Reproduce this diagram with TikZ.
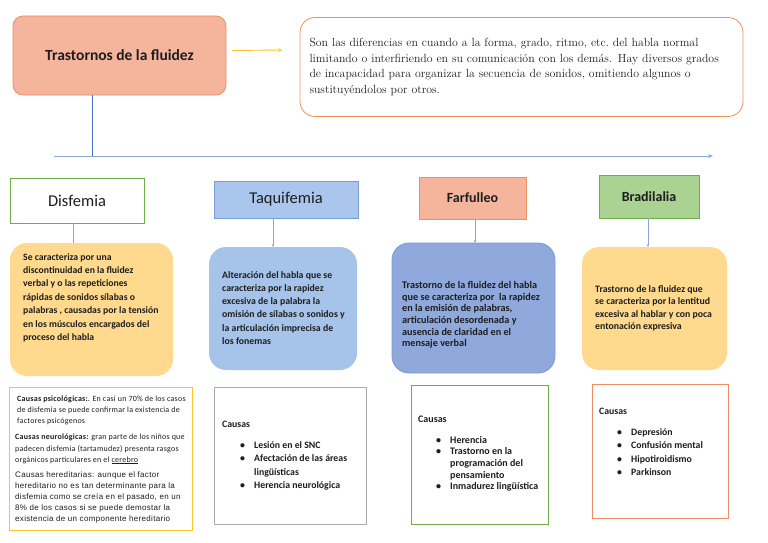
\documentclass[tikz,border=0pt]{standalone}
\usepackage{fontspec}
\newfontfamily\calib{Carlito}
\newfontfamily\calsp[LetterSpace=3]{Carlito}
\newfontfamily\arialsp[LetterSpace=4]{Liberation Sans}
\usetikzlibrary{arrows.meta}
\definecolor{salmonfill}{RGB}{245,180,156}
\definecolor{salmonline}{RGB}{238,140,100}
\definecolor{orangeline}{RGB}{237,145,90}
\definecolor{bluehead}{RGB}{170,198,236}
\definecolor{bluehline}{RGB}{120,160,215}
\definecolor{greenfill}{RGB}{170,210,145}
\definecolor{greenline}{RGB}{112,173,71}
\definecolor{yellowfill}{RGB}{255,217,142}
\definecolor{lightblue}{RGB}{166,195,234}
\definecolor{peri}{RGB}{143,169,220}
\definecolor{periline}{RGB}{125,150,208}
\definecolor{goldline}{RGB}{255,196,40}
\definecolor{grayline}{RGB}{170,170,170}
\definecolor{darkblue}{RGB}{68,114,196}
\definecolor{connblue}{RGB}{140,165,215}
\definecolor{txt}{RGB}{30,30,30}
\tikzset{
  box/.style={inner sep=0pt, outer sep=0pt, line width=0.8pt},
  headbox/.style={box, font=\calib\fontsize{16.5}{18}\selectfont, text=txt},
  descbox/.style={box, rounded corners=17pt},
  desctext/.style={inner sep=0pt, anchor=north west, align=left, text=txt, font=\calib\bfseries\fontsize{9.7}{13.4}\selectfont},
  causebox/.style={box, fill=white},
  conn/.style={draw=connblue, line width=0.6pt},
  tipconn/.style={conn, -{Stealth[length=3pt,width=2.6pt]}},
}
\newcommand{\itm}[1]{\hspace*{18pt}\makebox[14pt][l]{\textbullet}#1}
\newcommand{\cnt}[1]{\hspace*{32pt}#1}
\newcommand{\myul}[1]{\setbox0\hbox{#1}\rlap{\rule[-1.3pt]{\wd0}{0.45pt}}\box0}
\begin{document}
\calib
\begin{tikzpicture}[x=1pt,y=-1pt]
\useasboundingbox (0,0) rectangle (768,543);
% top
\node[box, rounded corners=10pt, fill=salmonfill, draw=salmonline, minimum width=213pt, minimum height=79pt,
  font=\calib\bfseries\fontsize{15.5}{18}\selectfont, text=txt] (main) at (119.5,55.5) {Trastornos de la fluidez};
\node[box, rounded corners=15pt, fill=white, draw=orangeline, minimum width=443pt, minimum height=99pt,
  text width=424pt, align=left, font=\rmfamily\fontsize{11.8}{15.6}\selectfont, text=txt] (def) at (521.5,67)
  {\hyphenpenalty=10000 Son las diferencias en cuando a la forma, grado, ritmo, etc.\ del habla normal\\
   limitando o interfiriendo en su comunicación con los demás. Hay diversos grados\\
   de incapacidad para organizar la secuencia de sonidos, omitiendo algunos o\\
   sustituyéndolos por otros.};
\draw[draw=goldline, line width=0.9pt, -{Stealth[length=4pt,width=4pt]}] ([xshift=6pt,yshift=5pt]main.east) -- ([xshift=-18pt,yshift=17pt]def.west);
\coordinate (hj) at (92,156);
\coordinate (h0) at (54,156);
\coordinate (h1) at (713,156);
\draw[draw=darkblue, line width=0.7pt] (main.south -| hj) -- (hj);
\draw[draw=peri, line width=1pt, -{Stealth[length=5pt,width=4pt]}] (h0) -- (h1);
% headings
\node[headbox, fill=white, draw=greenline, minimum width=134pt, minimum height=45pt] (dis) at (77,200.5) {Disfemia};
\node[headbox, fill=bluehead, draw=bluehline, minimum width=144pt, minimum height=37pt] (taq) at (286,199.5) {Taquifemia};
\node[headbox, fill=salmonfill, draw=orangeline, minimum width=107pt, minimum height=42pt, font=\calib\bfseries\fontsize{14}{16}\selectfont] (far) at (472.5,198) {Farfulleo};
\node[headbox, fill=greenfill, draw=greenline, minimum width=100pt, minimum height=43pt, font=\calib\bfseries\fontsize{14}{16}\selectfont] (bra) at (649,196.5) {Bradilalia};
% descriptions
\node[descbox, fill=yellowfill, minimum width=163pt, minimum height=133pt] (disd) at (91.5,309.5) {};
\node[descbox, fill=lightblue, minimum width=148pt, minimum height=123pt] (taqd) at (283,308.5) {};
\node[descbox, fill=peri, draw=periline, minimum width=163pt, minimum height=130pt] (fard) at (473.5,308) {};
\node[descbox, fill=yellowfill, minimum width=145pt, minimum height=123pt] (brad) at (654.5,308.5) {};
\node[desctext] (disdt) at (23,253) {Se caracteriza por una\\ discontinuidad en la fluidez\\ verbal y o las repeticiones\\ rápidas de sonidos sílabas o\\ palabras , causadas por la tensión\\ en los músculos encargados del\\ proceso del habla};
\node[desctext, font=\calib\bfseries\fontsize{9.8}{13.3}\selectfont] (taqdt) at (222,271) {Alteración del habla que se\\ caracteriza por la rapidez\\ excesiva de la palabra la\\ omisión de sílabas o sonidos y\\ la articulación imprecisa de\\ los fonemas};
\node[desctext, font=\calib\bfseries\fontsize{10.2}{11.7}\selectfont] (fardt) at (402,281) {Trastorno de la fluidez del habla\\ que se caracteriza por\ \ la rapidez\\ en la emisión de palabras,\\ articulación desordenada y\\ ausencia de claridad en el\\ mensaje verbal};
\node[desctext, font=\calib\bfseries\fontsize{9.8}{12.6}\selectfont] (bradt) at (595,285) {Trastorno de la fluidez que\\ se caracteriza por la lentitud\\ excesiva al hablar y con poca\\ entonación expresiva};
% connectors heading -> description
\draw[conn] ([xshift=-4pt]dis.south) -- ([xshift=-4pt]dis.south |- disd.north);
\draw[tipconn] ([xshift=-13pt]taq.south) -- ([xshift=-13pt]taq.south |- taqd.north);
\draw[tipconn] ([xshift=2.5pt]far.south) -- ([xshift=2.5pt]far.south |- fard.north);
\draw[tipconn] ([xshift=-1pt]bra.south) -- ([xshift=-1pt]bra.south |- brad.north);
% causes boxes
\node[causebox, draw=goldline, minimum width=183pt, minimum height=143pt] (disc) at (100.5,458.5) {};
\node[causebox, draw=grayline, minimum width=152pt, minimum height=137pt] (taqc) at (290,455.5) {};
\node[causebox, draw=greenline, minimum width=137pt, minimum height=139pt] (farc) at (479.5,454.5) {};
\node[causebox, draw=salmonline, minimum width=136pt, minimum height=134pt] (brac) at (660,451) {};
\node[inner sep=0pt, anchor=north west, align=left, text=txt, font=\calsp\fontsize{8}{10.8}\selectfont] (disc1) at (17,396)
  {\textbf{Causas psicológicas:}. En casi un 70\% de los casos\\ de disfemia se puede confirmar la existencia de\\ factores psicógenos};
\node[inner sep=0pt, anchor=north west, align=left, text=txt, font=\calsp\fontsize{8}{11.2}\selectfont] (disc2) at (15,434)
  {\textbf{Causas neurológicas:} gran parte de los niños que\\ padecen disfemia (tartamudez) presenta rasgos\\ orgánicos particulares en el \myul{cerebro}};
\node[inner sep=0pt, anchor=north west, align=left, text=txt, font=\arialsp\fontsize{8}{11}\selectfont] (disc3) at (15,471)
  {Causas hereditarias: aunque el factor\\ hereditario no es tan determinante para la\\ disfemia como se creía en el pasado, en un\\ 8\% de los casos si se puede demostar la\\ existencia de un componente hereditario};
\node[desctext, font=\calib\bfseries\fontsize{9.8}{13.3}\selectfont] (taqct) at (222,421)
  {Causas\\[7.5pt] \itm{Lesión en el SNC}\\ \itm{Afectación de las áreas}\\ \cnt{lingüísticas}\\ \itm{Herencia neurológica}};
\node[desctext, font=\calib\bfseries\fontsize{10}{11.6}\selectfont] (farct) at (418,416)
  {Causas\\[9pt] \itm{Herencia}\\ \itm{Trastorno en la}\\ \cnt{programación del}\\ \cnt{pensamiento}\\ \itm{Inmadurez lingüística}};
\node[desctext, font=\calib\bfseries\fontsize{9.8}{13.3}\selectfont] (bract) at (599,408)
  {Causas\\[7.5pt] \itm{Depresión}\\ \itm{Confusión mental}\\ \itm{Hipotiroidismo}\\ \itm{Parkinson}};
\end{tikzpicture}
\end{document}
